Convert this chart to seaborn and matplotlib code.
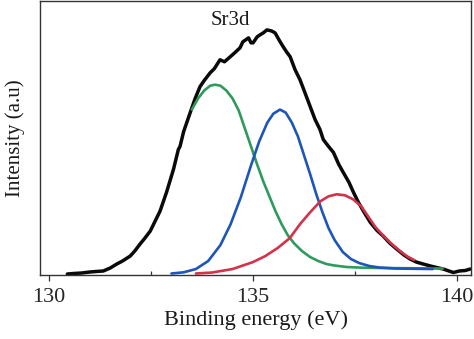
import matplotlib
matplotlib.use("Agg")
import matplotlib.pyplot as plt
import seaborn as sns
import pandas as pd
from matplotlib.ticker import FixedLocator

# ---- data ----
black_x = [130.45, 130.60, 130.80, 131.00, 131.15, 131.33, 131.50, 131.66, 131.80, 131.99,
           132.10, 132.23, 132.35, 132.48, 132.60, 132.72, 132.88, 133.05, 133.17, 133.21,
           133.30, 133.46, 133.58, 133.70, 133.80, 133.95, 134.05, 134.19, 134.30, 134.44,
           134.55, 134.68, 134.75, 134.82, 134.89, 134.95, 135.00, 135.10, 135.17, 135.25,
           135.34, 135.45, 135.54, 135.65, 135.74, 135.82, 135.91, 136.03, 136.15, 136.28,
           136.40, 136.52, 136.64, 136.72, 136.85, 136.97, 137.10, 137.21, 137.35, 137.46,
           137.58, 137.72, 137.87, 138.03, 138.19, 138.35, 138.52, 138.70, 138.85, 139.00,
           139.17, 139.35, 139.50, 139.66, 139.80, 139.91, 140.05, 140.20, 140.32]
black_y = [0, 0.5, 1, 2, 2.5, 3, 6, 10, 13, 18,
           23, 30, 36, 43, 53, 63, 82, 105, 125, 128,
           143, 162, 176, 188, 194, 202, 206, 215, 213, 218,
           222, 227, 233, 235, 237, 232, 232, 238, 240, 242,
           245, 244, 242, 234, 228, 223, 218, 205, 195, 181,
           168, 155, 145, 135, 128, 122, 110, 102, 92, 82,
           72, 62, 52, 44, 38, 31, 25, 19, 15, 12,
           10, 8, 6.5, 5, 3, 1.5, 3, 3.5, 5]

green_x = [133.50, 133.65, 133.80, 133.95, 134.07, 134.20, 134.35, 134.50, 134.65, 134.80,
           134.95, 135.10, 135.25, 135.40, 135.55, 135.70, 135.85, 136.00, 136.20, 136.40,
           136.60, 136.80, 137.00, 137.30, 137.70, 138.20, 138.80, 139.40, 139.65]
green_y = [165, 176, 184, 189, 190, 189, 184, 176, 164, 146,
           128, 110, 93, 78, 63, 50, 39, 31, 23, 17,
           13, 10, 8.5, 7, 6.3, 6, 5.8, 5.5, 5.5]

blue_x = [133.00, 133.30, 133.60, 133.90, 134.20, 134.45, 134.70, 134.95, 135.15, 135.35,
          135.50, 135.66, 135.80, 135.95, 136.10, 136.25, 136.40, 136.55, 136.70, 136.85,
          137.00, 137.20, 137.40, 137.60, 137.85, 138.10, 138.50, 139.00, 139.40]
blue_y = [0.5, 1.7, 5, 13, 29, 50, 77, 109, 133, 152,
          161, 165, 162, 152, 138, 119, 100, 80, 62, 46,
          34, 22, 15, 11, 8, 6.5, 5.5, 5.2, 5]

red_x = [133.60, 134.00, 134.50, 135.00, 135.30, 135.60, 135.90, 136.15, 136.40, 136.65,
         136.85, 137.05, 137.25, 137.45, 137.65, 137.85, 138.00, 138.20, 138.40, 138.60,
         138.80, 138.95]
red_y = [0.5, 1.5, 5, 12, 18, 26, 36, 50, 62, 73,
         78, 80, 79, 75, 68, 56, 47, 38, 30, 23,
         17, 14]

x_ticks = [130, 135, 140]
annotation = "Sr3d"

# ---- style ----
sns.set_style("white")
plt.rcParams["font.family"] = ["Liberation Serif", "DejaVu Serif"]

fig = plt.figure(figsize=(4.74, 3.39), dpi=100)
ax = fig.add_axes([40 / 474, 64 / 339, 431 / 474, 274 / 339])

series = [
    (black_x, black_y, "#0a0a0a", 2.5),
    (green_x, green_y, "#2f9a5c", 1.9),
    (blue_x, blue_y, "#1d56b8", 1.9),
    (red_x, red_y, "#d1334a", 1.9),
]
for xs, ys, col, lw in series:
    df = pd.DataFrame({"x": xs, "y": ys})
    sns.lineplot(data=df, x="x", y="y", ax=ax, color=col, linewidth=lw,
                 estimator=None, sort=False)

ax.set_xlim(129.78, 140.34)
ax.set_ylim(-1, 274)
ax.set_xticks(x_ticks)
ax.xaxis.set_minor_locator(FixedLocator([132.5, 137.5]))
ax.set_yticks([])
ax.tick_params(axis="x", which="major", direction="out", length=4.5, width=0.9,
               color="#333333", labelsize=16, pad=5, bottom=True)
ax.tick_params(axis="x", which="minor", direction="in", length=3, width=0.9,
               color="#333333", bottom=True)

for sp in ax.spines.values():
    sp.set_color("#333333")
    sp.set_linewidth(1.0)

ax.set_xlabel("Binding energy (eV)", fontsize=16, labelpad=2, color="#1a1a1a")
ax.set_ylabel("Intensity (a.u)", fontsize=15, labelpad=11, color="#1a1a1a")
ax.text(134.44, 254, annotation, fontsize=15, ha="center", va="center", color="#1a1a1a")

fig.savefig("out.png", dpi=100)
